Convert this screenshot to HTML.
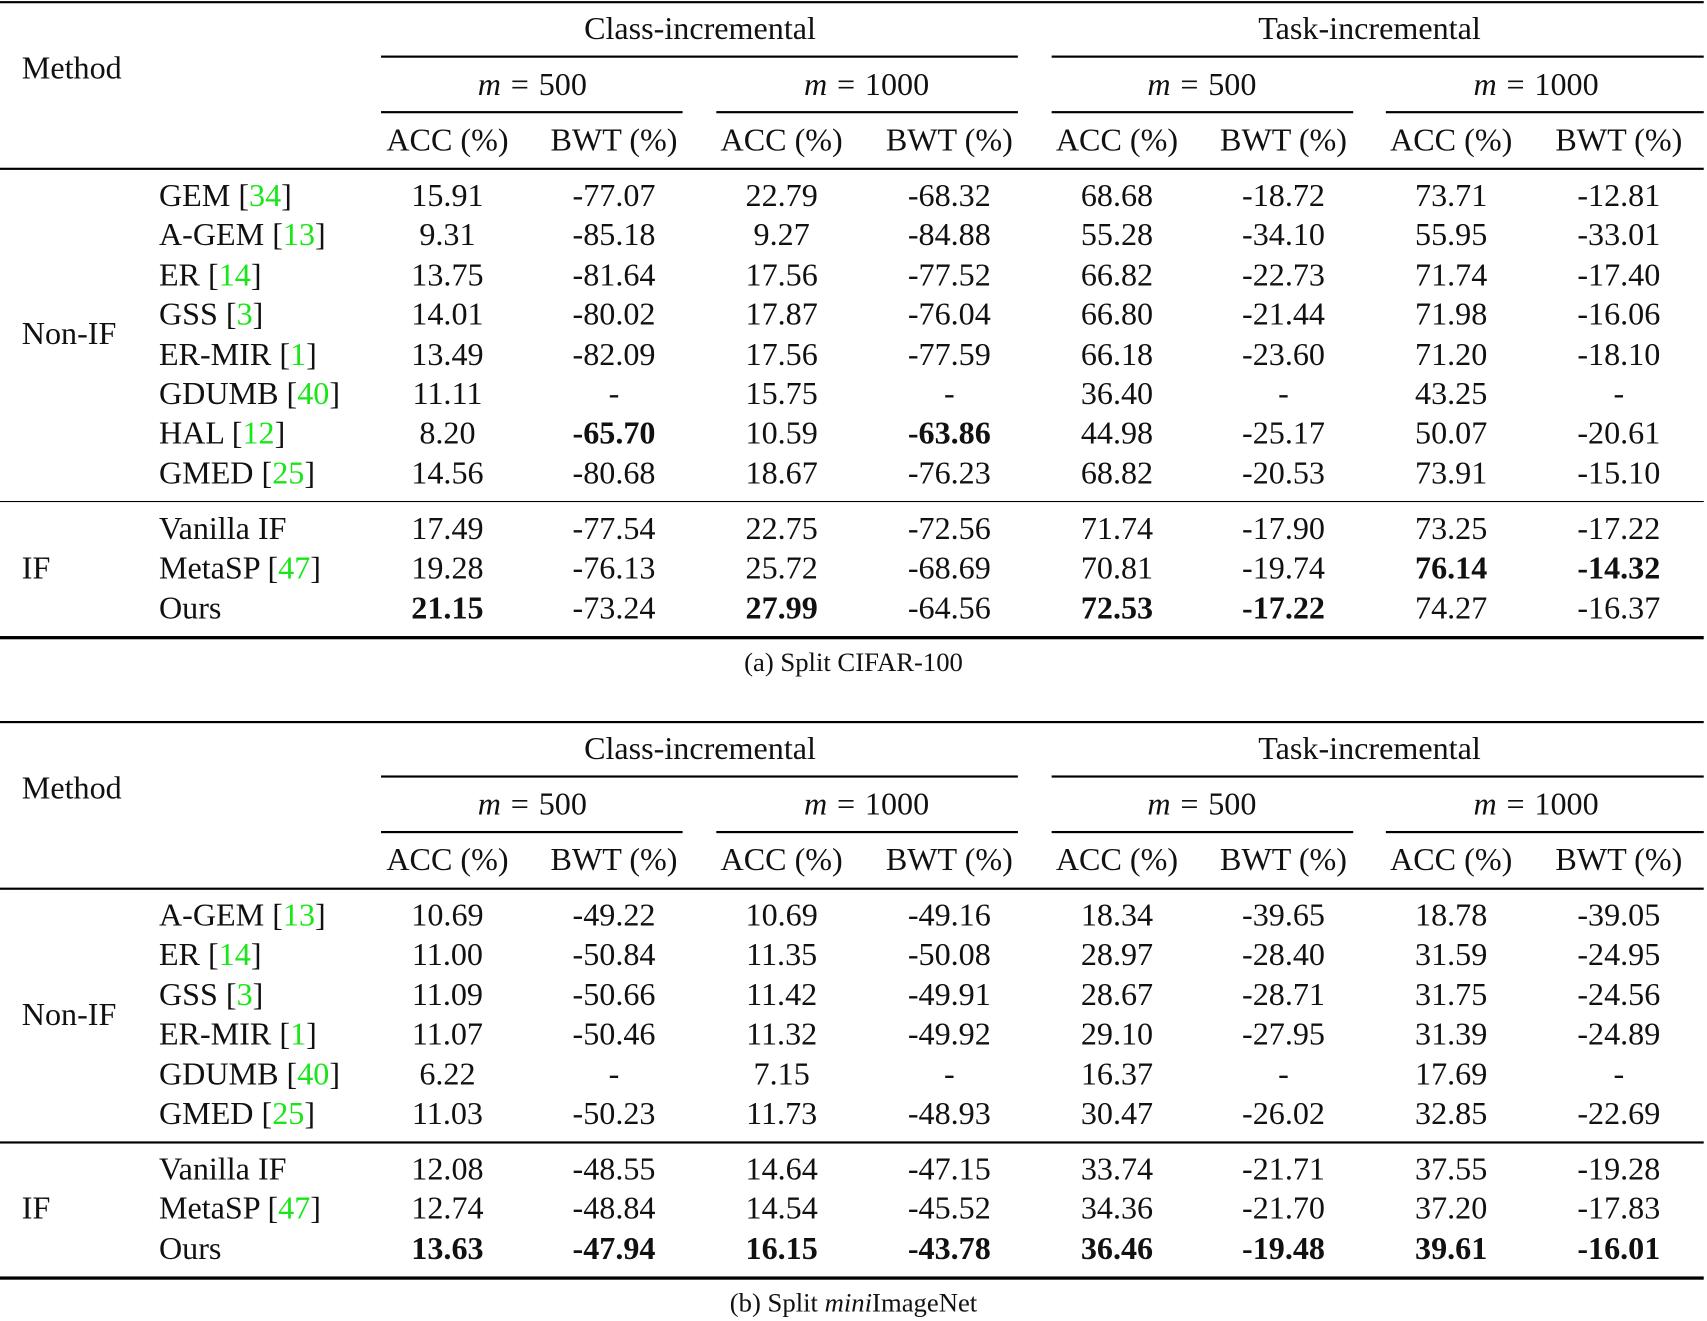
<!DOCTYPE html>
<html><head><meta charset="utf-8">
<style>
html,body{margin:0;padding:0;background:#fff;}
body{width:1707px;height:1321px;overflow:hidden;position:relative;}
#stage{position:absolute;left:0;top:0;width:1568px;height:1213px;transform:scale(1.08865,1.0891);transform-origin:0 0;font-family:"Liberation Serif",serif;color:#111;}
.t{position:absolute;white-space:nowrap;font-size:29.5px;line-height:32px;transform:translate(-50%,-50%);}
.l{transform:translate(0,-50%);}
.r{position:absolute;background:#000;}
.g{color:#19e619;}
.b{font-weight:bold;}
.m{font-style:italic;}
.eq{margin:0 9px;}
.cap{font-size:24.5px;}
</style></head>
<body>
<div id="stage"></div>
<script>
const colCenters=[411,564,718,872,1026,1179,1333,1487];
const colHeaders=["ACC (%)","BWT (%)","ACC (%)","BWT (%)","ACC (%)","BWT (%)","ACC (%)","BWT (%)"];
const memLabels=["500","1000","500","1000"];
const t1Names=["GEM","A-GEM","ER","GSS","ER-MIR","GDUMB","HAL","GMED","Vanilla IF","MetaSP","Ours"];
const t1Refs=["34","13","14","3","1","40","12","25","","47",""];
const t1Vals=[
["15.91","-77.07","22.79","-68.32","68.68","-18.72","73.71","-12.81"],
["9.31","-85.18","9.27","-84.88","55.28","-34.10","55.95","-33.01"],
["13.75","-81.64","17.56","-77.52","66.82","-22.73","71.74","-17.40"],
["14.01","-80.02","17.87","-76.04","66.80","-21.44","71.98","-16.06"],
["13.49","-82.09","17.56","-77.59","66.18","-23.60","71.20","-18.10"],
["11.11","-","15.75","-","36.40","-","43.25","-"],
["8.20","-65.70","10.59","-63.86","44.98","-25.17","50.07","-20.61"],
["14.56","-80.68","18.67","-76.23","68.82","-20.53","73.91","-15.10"],
["17.49","-77.54","22.75","-72.56","71.74","-17.90","73.25","-17.22"],
["19.28","-76.13","25.72","-68.69","70.81","-19.74","76.14","-14.32"],
["21.15","-73.24","27.99","-64.56","72.53","-17.22","74.27","-16.37"]];
const t1Bold=[[6,1],[6,3],[9,6],[9,7],[10,0],[10,2],[10,4],[10,5]];
const t2Names=["A-GEM","ER","GSS","ER-MIR","GDUMB","GMED","Vanilla IF","MetaSP","Ours"];
const t2Refs=["13","14","3","1","40","25","","47",""];
const t2Vals=[
["10.69","-49.22","10.69","-49.16","18.34","-39.65","18.78","-39.05"],
["11.00","-50.84","11.35","-50.08","28.97","-28.40","31.59","-24.95"],
["11.09","-50.66","11.42","-49.91","28.67","-28.71","31.75","-24.56"],
["11.07","-50.46","11.32","-49.92","29.10","-27.95","31.39","-24.89"],
["6.22","-","7.15","-","16.37","-","17.69","-"],
["11.03","-50.23","11.73","-48.93","30.47","-26.02","32.85","-22.69"],
["12.08","-48.55","14.64","-47.15","33.74","-21.71","37.55","-19.28"],
["12.74","-48.84","14.54","-45.52","34.36","-21.70","37.20","-17.83"],
["13.63","-47.94","16.15","-43.78","36.46","-19.48","39.61","-16.01"]];
const t2Bold=[[8,0],[8,1],[8,2],[8,3],[8,4],[8,5],[8,6],[8,7]];

const st=document.getElementById('stage');
function txt(x,y,html,cls,name){
  const d=document.createElement('div');
  d.className='t '+(cls||'');
  d.style.left=x+'px';d.style.top=y+'px';
  d.innerHTML=html;
  
  
  st.appendChild(d);return d;
}
function rule(x1,x2,y,h,name){
  const d=document.createElement('div');
  d.className='r';
  d.style.left=x1+'px';d.style.top=(y-h/2)+'px';d.style.width=(x2-x1)+'px';d.style.height=h+'px';
  
  
  st.appendChild(d);
}
function table(off,names,refs,vals,bold,nNon,caption,tag){
  rule(0,1565,off+2,2.5,tag+'-top-rule');
  txt(643,off+27,'Class-incremental','',tag+'-class-incremental-header');
  txt(1258,off+27,'Task-incremental','',tag+'-task-incremental-header');
  txt(20,off+63,'Method','l',tag+'-method-header');
  rule(350,935,off+52,1.3,tag+'-class-cmidrule');
  rule(966,1565,off+52,1.3,tag+'-task-cmidrule');
  const mc=[489,796,1104,1411],mr=[[350,627],[658,935],[966,1243],[1273,1565]];
  memLabels.forEach((m,i)=>{
    txt(mc[i],off+78,'<span class="m">m</span><span class="eq">=</span>'+m,'',tag+'-memory-header');
    rule(mr[i][0],mr[i][1],off+103,1.3,tag+'-memory-cmidrule');
  });
  colHeaders.forEach((h,i)=>txt(colCenters[i],off+129,h,'',tag+'-column-header'));
  rule(0,1565,off+155,1.6,tag+'-header-rule');
  const step=36.4;
  const y0=off+180;
  const yIF=y0+nNon*step+14.5;
  names.forEach((n,r)=>{
    const y= r<nNon ? y0+r*step : yIF+(r-nNon)*step;
    const ref=refs[r]?' [<span class="g">'+refs[r]+'</span>]':'';
    txt(146,y,n+ref,'l',tag+'-method-name');
    vals[r].forEach((v,c)=>{
      const isB=bold.some(b=>b[0]===r&&b[1]===c);
      txt(colCenters[c],y,v,isB?'b':'',tag+'-cell');
    });
  });
  txt(20,y0+(nNon-1)*step/2,'Non-IF','l',tag+'-non-if-group');
  rule(0,1565,yIF-25,1.3,tag+'-group-rule');
  txt(20,yIF+step,'IF','l',tag+'-if-group');
  const yb=yIF+2*step+27;
  rule(0,1565,yb,2.5,tag+'-bottom-rule');
  txt(784,yb+23,caption,'cap',tag+'-caption');
}
table(0,t1Names,t1Refs,t1Vals,t1Bold,8,'(a) Split CIFAR-100','cifar-table');
table(661,t2Names,t2Refs,t2Vals,t2Bold,6,'(b) Split <i>mini</i>ImageNet','imagenet-table');
</script>
</body></html>
